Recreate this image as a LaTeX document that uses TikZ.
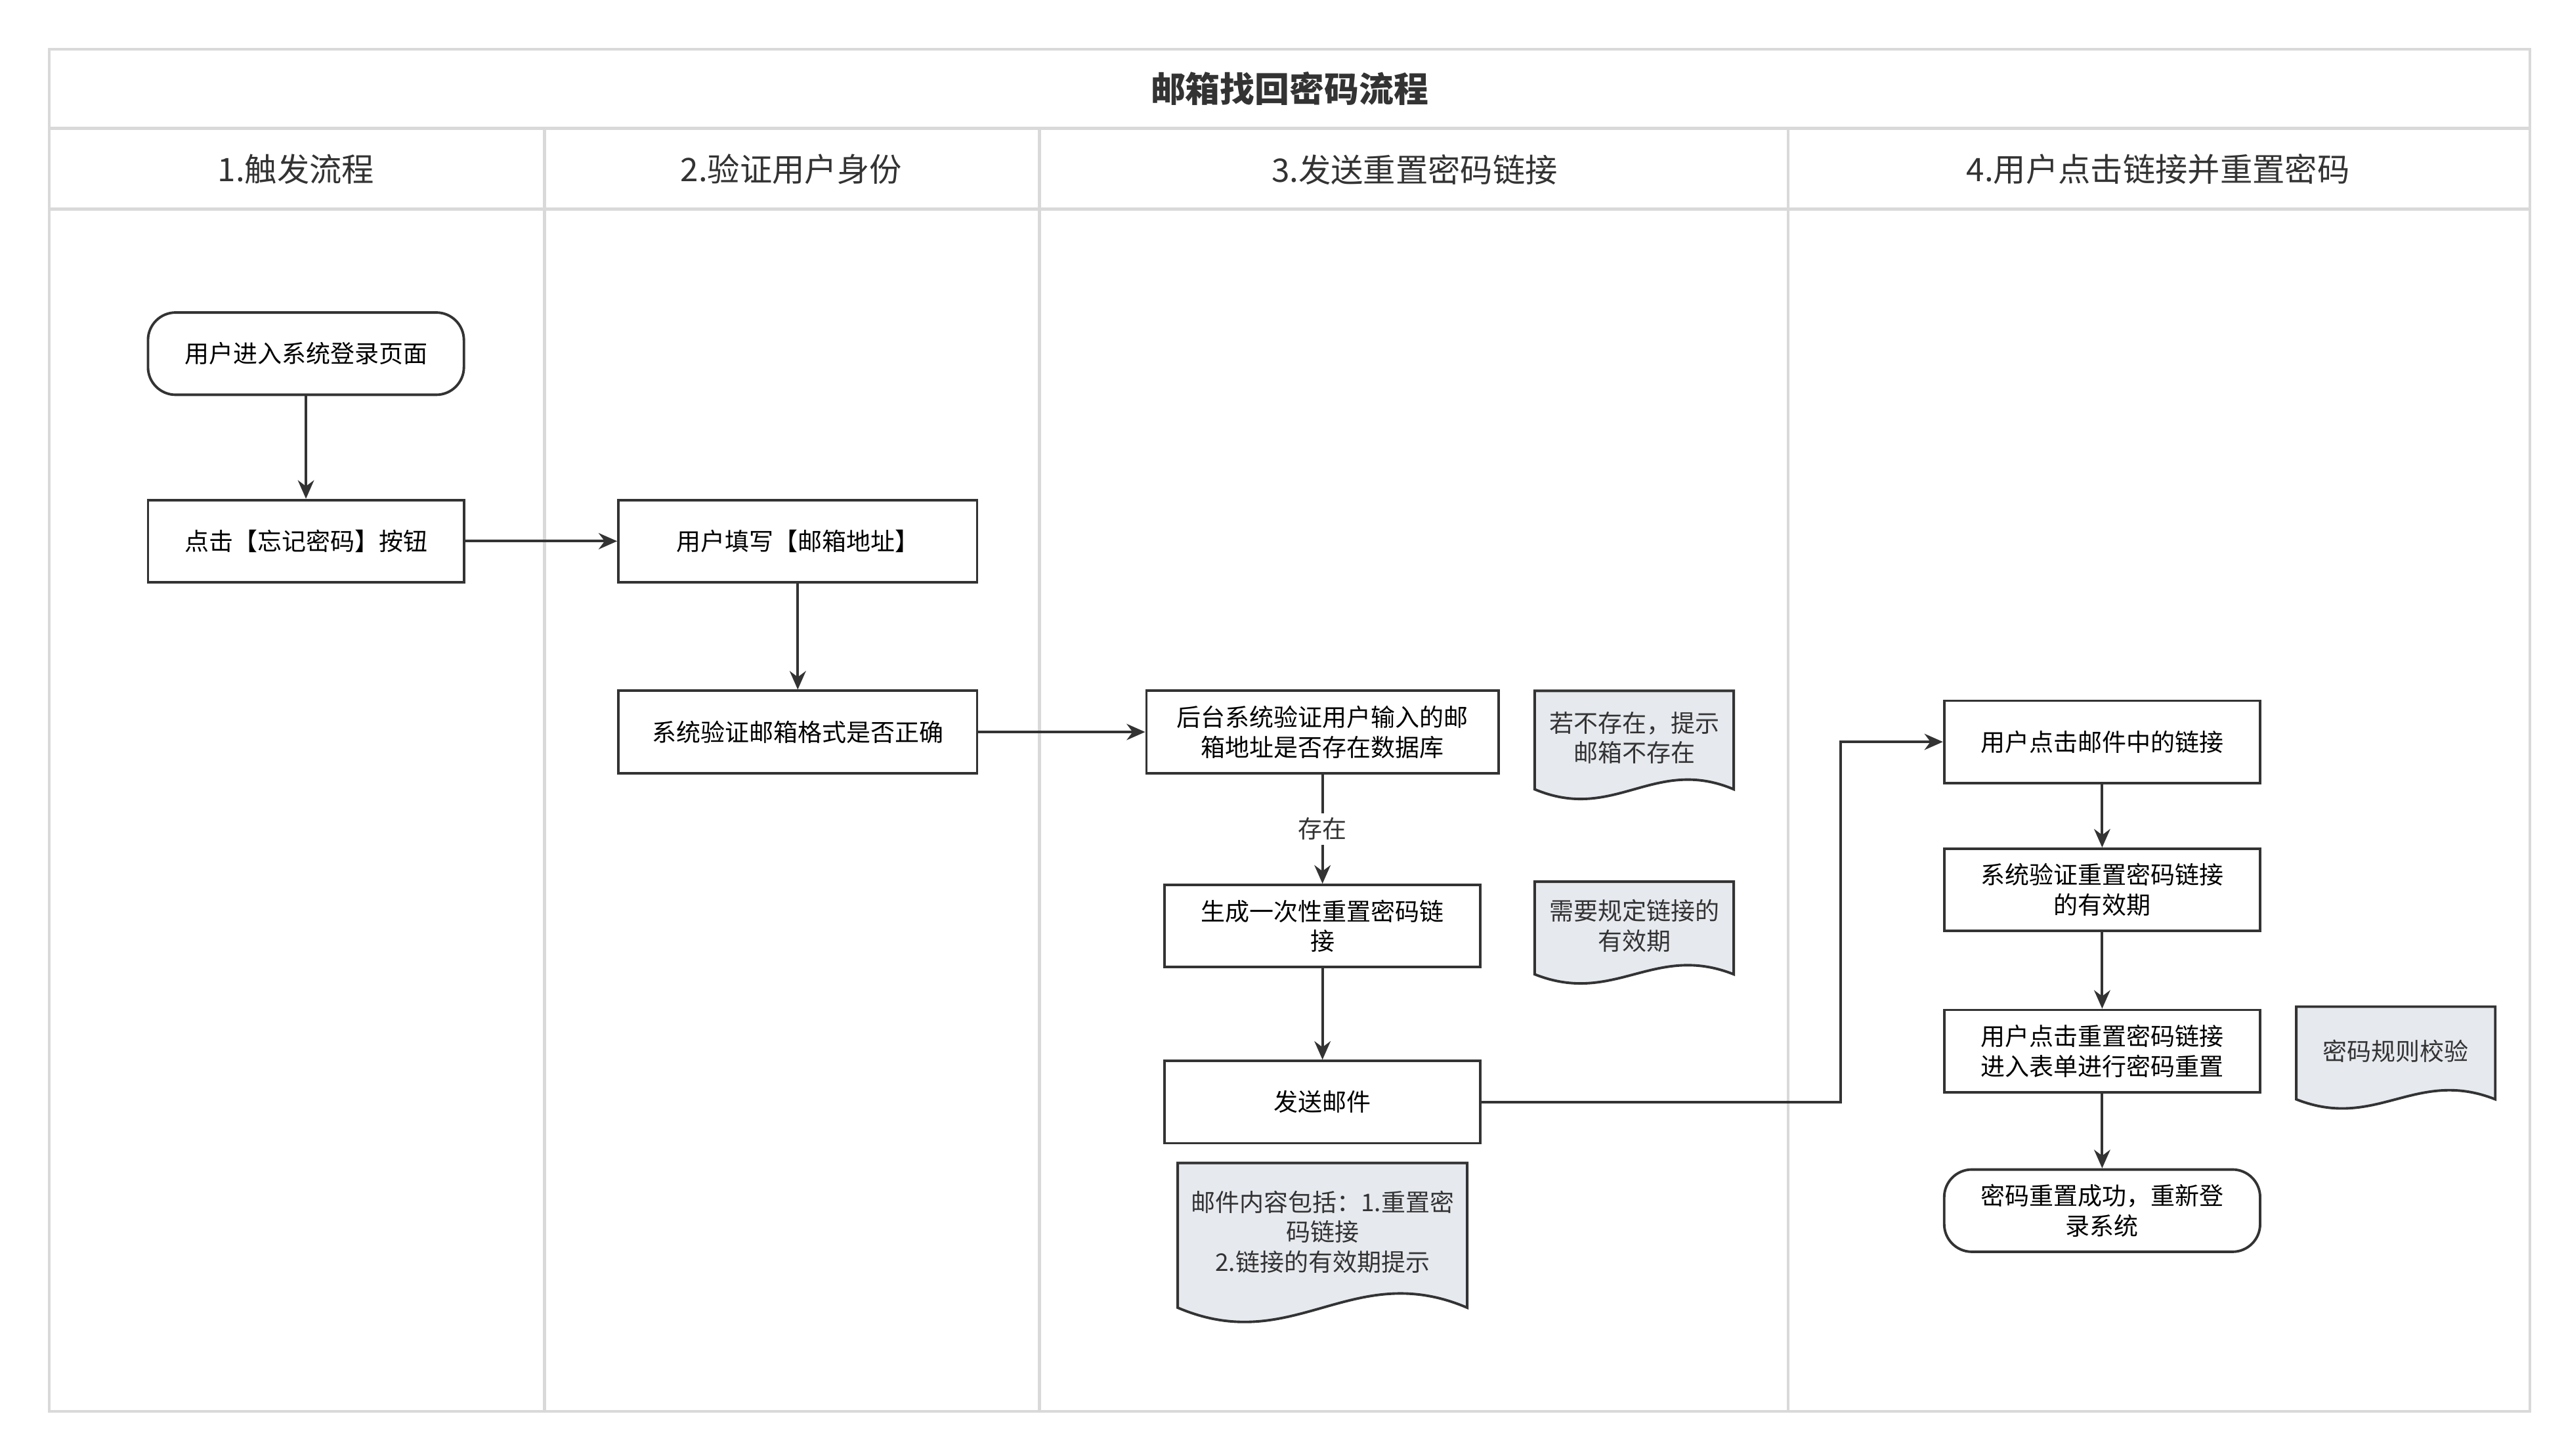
\documentclass[tikz,border=0pt]{standalone}
\usepackage{fontspec}
\setmainfont{Noto Sans CJK SC}
\usetikzlibrary{arrows.meta,positioning}
\definecolor{laneline}{HTML}{D9D9D9}
\definecolor{ink}{HTML}{333333}
\definecolor{notefill}{HTML}{E6EAEE}
\tikzset{
	box/.style = {draw=ink, line width=1.1pt, minimum width=4.8cm, minimum height=1.25cm, align=center, font=\fontsize{10.5}{13}\selectfont, inner sep=1pt},
	term/.style = {box, rounded corners=0.42cm},
	flow/.style = {draw=ink, line width=1.1pt, -{Stealth[length=8pt,width=7pt]}},
	lanetitle/.style = {font=\fontsize{14}{16}\selectfont, text=ink},
	notetext/.style = {font=\fontsize{10.5}{13}\selectfont, align=center, text=ink, inner sep=0pt},
}
% x0 y0 (top left), width, height, name, text
\newcommand{\docnote}[6]{
	\draw[draw=ink, line width=1.1pt, fill=notefill] (#1,#2) -- ++(#3,0) -- ++(0,0.88*#4)
		.. controls ++(-0.4*#3,-0.3*#4) and ++(0.4*#3,0.3*#4) .. ($(#1,#2)+(0,0.88*#4)$) -- cycle;
	\node[notetext] (#5) at ($(#1,#2)+(0.5*#3,0.42*#4)$) {#6};
}
\usetikzlibrary{calc}
\begin{document}
\begin{tikzpicture}[x=0.025cm, y=-0.025cm]
	\path[use as bounding box, fill=white] (0,0) rectangle (1560,885);
	% lanes
	\draw[laneline, line width=1.3pt] (30,30) rectangle (1538,858);
	\draw[laneline, line width=1.3pt] (30,78) -- (1538,78) (30,127) -- (1538,127);
	\foreach \x in {331,632,1087} \draw[laneline, line width=1.3pt] (\x,78) -- (\x,858);
	\node[font=\fontsize{15}{17}\selectfont\bfseries, text=ink] (title) at (784,54) {邮箱找回密码流程};
	\node[lanetitle] (lane1) at (180,103) {1.触发流程};
	\node[lanetitle] (lane2) at (481,103) {2.验证用户身份};
	\node[lanetitle] (lane3) at (860,103) {3.发送重置密码链接};
	\node[lanetitle] (lane4) at (1312,103) {4.用户点击链接并重置密码};

	% nodes
	\node[term] (login) at (186,215) {用户进入系统登录页面};
	\node[box] (forget) at (186,329) {点击【忘记密码】按钮};
	\node[box, minimum width=5.45cm] (fill) at (485,329) {用户填写【邮箱地址】};
	\node[box, minimum width=5.45cm] (format) at (485,445) {系统验证邮箱格式是否正确};
	\node[box, minimum width=5.35cm] (check) at (804,445) {后台系统验证用户输入的邮\\箱地址是否存在数据库};
	\node[box] (gen) at (804,563) {生成一次性重置密码链\\接};
	\node[box] (send) at (804,670) {发送邮件};
	\node[box] (click) at (1278,451) {用户点击邮件中的链接};
	\node[box] (valid) at (1278,541) {系统验证重置密码链接\\的有效期};
	\node[box] (reset) at (1278,639) {用户点击重置密码链接\\进入表单进行密码重置};
	\node[term] (done) at (1278,736) {密码重置成功，重新登\\录系统};

	% notes
	\docnote{933}{420}{121}{68}{nonote}{若不存在，提示\\邮箱不存在}
	\docnote{933}{536}{121}{64}{expnote}{需要规定链接的\\有效期}
	\docnote{716}{707}{176}{100}{mailnote}{邮件内容包括：1.重置密\\码链接\\2.链接的有效期提示}
	\docnote{1396}{612}{121}{64}{rulenote}{密码规则校验}

	% connectors
	\draw[flow] (login) -- (forget);
	\draw[flow] (forget) -- (fill);
	\draw[flow] (fill) -- (format);
	\draw[flow] (format) -- (check);
	\draw[flow] (check) -- node[fill=white, font=\fontsize{10.5}{13}\selectfont, text=ink, inner sep=2pt] (exist) {存在} (gen);
	\draw[flow] (gen) -- (send);
	\draw[flow] (send.east) -- (1119,670) -- (1119,451) -- (click.west);
	\draw[flow] (click) -- (valid);
	\draw[flow] (valid) -- (reset);
	\draw[flow] (reset) -- (done);
\end{tikzpicture}
\end{document}
